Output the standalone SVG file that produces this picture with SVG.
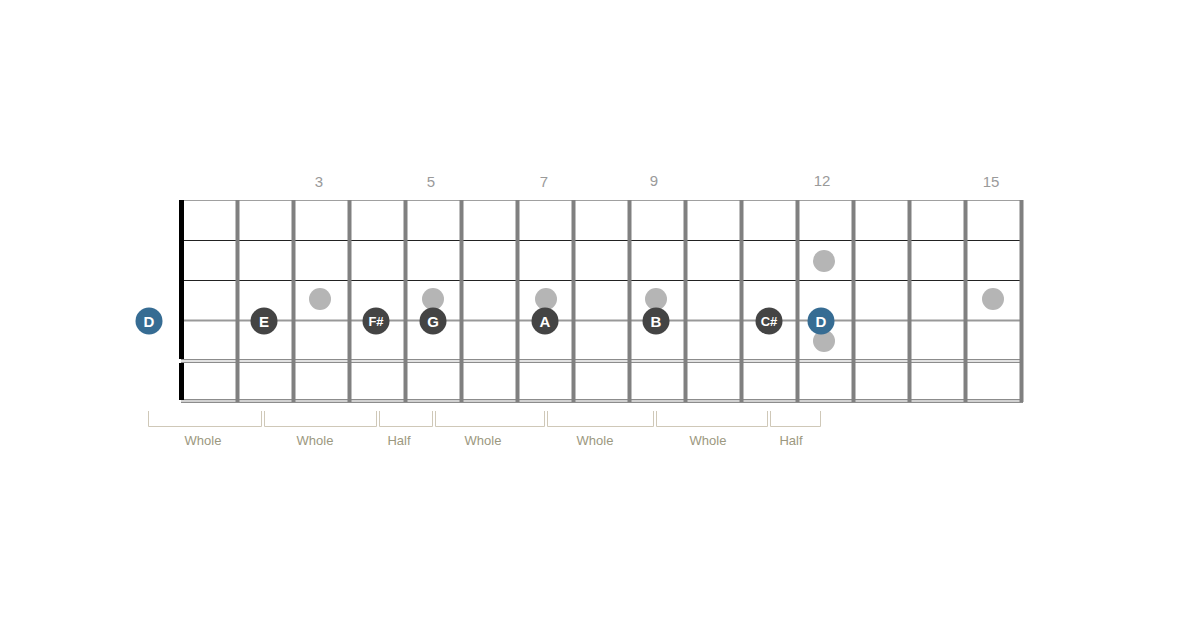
<svg xmlns="http://www.w3.org/2000/svg" width="1200" height="628" viewBox="0 0 1200 628">
<style>
.num{font-family:"Liberation Sans",Arial,sans-serif;font-size:15px;fill:#9a9a9a;text-anchor:middle}
.lbl{font-family:"Liberation Sans",Arial,sans-serif;font-size:13px;fill:#9c9880;text-anchor:middle}
.nt{font-family:"Liberation Sans",Arial,sans-serif;font-size:15px;font-weight:bold;fill:#ffffff;text-anchor:middle;dominant-baseline:central}
.sm{font-size:13px}
.dark{fill:#444444}
.root{fill:#366c93}
.ghost{fill:#b5b5b5}
.fret{fill:#808080}
.br{fill:none;stroke:#cfc8b8;stroke-width:1}
</style>
<rect width="1200" height="628" fill="#ffffff"/>
<g id="fretboard">
  <line x1="181" y1="200.5" x2="1023" y2="200.5" stroke="#a0a0a0" stroke-width="1"/>
  <line x1="181" y1="240.5" x2="1023" y2="240.5" stroke="#222" stroke-width="1"/>
  <line x1="181" y1="280.5" x2="1023" y2="280.5" stroke="#222" stroke-width="1"/>
  <line x1="181" y1="320.5" x2="1023" y2="320.5" stroke="#999" stroke-width="2"/>
  <line x1="181" y1="361" x2="1023" y2="361" stroke="#8c8c8c" stroke-width="4"/>
  <line x1="181" y1="361" x2="1023" y2="361" stroke="#ffffff" stroke-width="1.5"/>
  <line x1="181" y1="401" x2="1023" y2="401" stroke="#8c8c8c" stroke-width="4"/>
  <line x1="181" y1="401" x2="1023" y2="401" stroke="#e8e8e8" stroke-width="1.5"/>
  <rect x="179" y="200" width="5" height="159" fill="#000"/>
  <rect x="179" y="363" width="5" height="37" fill="#000"/>
  <rect class="fret" x="235.5" y="200" width="4" height="202"/>
  <rect class="fret" x="291.5" y="200" width="4" height="202"/>
  <rect class="fret" x="347.5" y="200" width="4" height="202"/>
  <rect class="fret" x="403.5" y="200" width="4" height="202"/>
  <rect class="fret" x="459.5" y="200" width="4" height="202"/>
  <rect class="fret" x="515.5" y="200" width="4" height="202"/>
  <rect class="fret" x="571.5" y="200" width="4" height="202"/>
  <rect class="fret" x="627.5" y="200" width="4" height="202"/>
  <rect class="fret" x="683.5" y="200" width="4" height="202"/>
  <rect class="fret" x="739.5" y="200" width="4" height="202"/>
  <rect class="fret" x="795.5" y="200" width="4" height="202"/>
  <rect class="fret" x="851.5" y="200" width="4" height="202"/>
  <rect class="fret" x="907.5" y="200" width="4" height="202"/>
  <rect class="fret" x="963.5" y="200" width="4" height="202"/>
  <rect class="fret" x="1019.5" y="200" width="4" height="202"/>
</g>
<g id="fret-numbers">
  <text class="num" x="319" y="187">3</text>
  <text class="num" x="431" y="187">5</text>
  <text class="num" x="544" y="187">7</text>
  <text class="num" x="654" y="186">9</text>
  <text class="num" x="822" y="186">12</text>
  <text class="num" x="991" y="187">15</text>
</g>
<g id="ghost-dots">
  <circle class="ghost" cx="320" cy="299" r="11"/>
  <circle class="ghost" cx="433" cy="299" r="11"/>
  <circle class="ghost" cx="546" cy="299" r="11"/>
  <circle class="ghost" cx="656" cy="299" r="11"/>
  <circle class="ghost" cx="824" cy="261" r="11"/>
  <circle class="ghost" cx="824" cy="341" r="11"/>
  <circle class="ghost" cx="993" cy="299" r="11"/>
</g>
<g id="note-D-open"><circle class="root" cx="149" cy="321" r="13.5"/><text class="nt" x="149" y="321">D</text></g>
<g id="note-E"><circle class="dark" cx="264" cy="321" r="13.5"/><text class="nt" x="264" y="321">E</text></g>
<g id="note-Fs"><circle class="dark" cx="376" cy="321" r="13.5"/><text class="nt sm" x="376" y="321">F#</text></g>
<g id="note-G"><circle class="dark" cx="433" cy="321" r="13.5"/><text class="nt" x="433" y="321">G</text></g>
<g id="note-A"><circle class="dark" cx="545" cy="321" r="13.5"/><text class="nt" x="545" y="321">A</text></g>
<g id="note-B"><circle class="dark" cx="656" cy="321" r="13.5"/><text class="nt" x="656" y="321">B</text></g>
<g id="note-Cs"><circle class="dark" cx="769" cy="321" r="13.5"/><text class="nt sm" x="769" y="321">C#</text></g>
<g id="note-D-12"><circle class="root" cx="821" cy="321" r="13.5"/><text class="nt" x="821" y="321">D</text></g>
<g id="intervals">
  <path class="br" d="M148.5 411V426.5H261.5V411"/>
  <path class="br" d="M264.5 411V426.5H376.5V411"/>
  <path class="br" d="M379.5 411V426.5H432.5V411"/>
  <path class="br" d="M435.5 411V426.5H544.5V411"/>
  <path class="br" d="M547.5 411V426.5H653.5V411"/>
  <path class="br" d="M656.5 411V426.5H767.5V411"/>
  <path class="br" d="M770.5 411V426.5H820.5V411"/>
  <text class="lbl" x="203" y="445">Whole</text>
  <text class="lbl" x="315" y="445">Whole</text>
  <text class="lbl" x="399" y="445">Half</text>
  <text class="lbl" x="483" y="445">Whole</text>
  <text class="lbl" x="595" y="445">Whole</text>
  <text class="lbl" x="708" y="445">Whole</text>
  <text class="lbl" x="791" y="445">Half</text>
</g>
</svg>
